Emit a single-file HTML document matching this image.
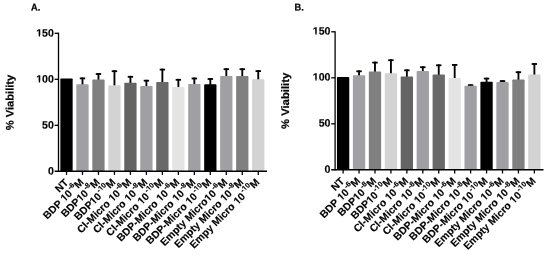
<!DOCTYPE html>
<html lang="en">
<head>
<meta charset="utf-8">
<title>Viability</title>
<style>
html,body{margin:0;padding:0;background:#fff;}
body{width:550px;height:255px;overflow:hidden;}
svg{display:block;}
svg text{font-family:"Liberation Sans", Arial, Helvetica, sans-serif;font-weight:bold;fill:#000;stroke:none;}
svg text.tk{stroke:#000;stroke-width:0.15px;}
svg text.yl{stroke:#000;stroke-width:0.2px;}
svg text.xl{stroke:#000;stroke-width:0.15px;}
svg text.ti{stroke:#000;stroke-width:0.25px;}
</style>
</head>
<body>
<svg width="550" height="255" viewBox="0 0 550 255">
<rect width="550" height="255" fill="#fff"/>
<g id="panelA">
<rect x="60.35" y="78.40" width="12.3" height="92.90" rx="0.8" fill="#000000"/>
<rect x="81.56" y="77.50" width="1.85" height="7.80" fill="#000"/>
<rect x="79.78" y="77.50" width="5.4" height="1.8" fill="#000"/>
<rect x="76.33" y="84.30" width="12.3" height="87.00" rx="0.8" fill="#a0a0a4"/>
<rect x="97.54" y="73.10" width="1.85" height="7.50" fill="#000"/>
<rect x="95.76" y="73.10" width="5.4" height="1.8" fill="#000"/>
<rect x="92.31" y="79.60" width="12.3" height="91.70" rx="0.8" fill="#808080"/>
<rect x="113.52" y="70.30" width="1.85" height="16.00" fill="#000"/>
<rect x="111.74" y="70.30" width="5.4" height="1.8" fill="#000"/>
<rect x="108.29" y="85.30" width="12.3" height="86.00" rx="0.8" fill="#d3d3d3"/>
<rect x="129.50" y="75.90" width="1.85" height="7.80" fill="#000"/>
<rect x="127.72" y="75.90" width="5.4" height="1.8" fill="#000"/>
<rect x="124.27" y="82.70" width="12.3" height="88.60" rx="0.8" fill="#646464"/>
<rect x="145.47" y="79.80" width="1.85" height="7.30" fill="#000"/>
<rect x="143.70" y="79.80" width="5.4" height="1.8" fill="#000"/>
<rect x="140.25" y="86.10" width="12.3" height="85.20" rx="0.8" fill="#a0a0a4"/>
<rect x="161.45" y="68.70" width="1.85" height="14.20" fill="#000"/>
<rect x="159.68" y="68.70" width="5.4" height="1.8" fill="#000"/>
<rect x="156.23" y="81.90" width="12.3" height="89.40" rx="0.8" fill="#696969"/>
<rect x="177.44" y="78.90" width="1.85" height="9.20" fill="#000"/>
<rect x="175.66" y="78.90" width="5.4" height="1.8" fill="#000"/>
<rect x="172.21" y="87.10" width="12.3" height="84.20" rx="0.8" fill="#e4e4e4"/>
<rect x="193.41" y="77.60" width="1.85" height="7.30" fill="#000"/>
<rect x="191.64" y="77.60" width="5.4" height="1.8" fill="#000"/>
<rect x="188.19" y="83.90" width="12.3" height="87.40" rx="0.8" fill="#a0a0a4"/>
<rect x="209.39" y="78.10" width="1.85" height="7.10" fill="#000"/>
<rect x="207.62" y="78.10" width="5.4" height="1.8" fill="#000"/>
<rect x="204.17" y="84.20" width="12.3" height="87.10" rx="0.8" fill="#000000"/>
<rect x="225.38" y="68.30" width="1.85" height="8.80" fill="#000"/>
<rect x="223.60" y="68.30" width="5.4" height="1.8" fill="#000"/>
<rect x="220.15" y="76.10" width="12.3" height="95.20" rx="0.8" fill="#a0a0a4"/>
<rect x="241.35" y="68.30" width="1.85" height="8.70" fill="#000"/>
<rect x="239.58" y="68.30" width="5.4" height="1.8" fill="#000"/>
<rect x="236.13" y="76.00" width="12.3" height="95.30" rx="0.8" fill="#808080"/>
<rect x="257.33" y="70.20" width="1.85" height="10.10" fill="#000"/>
<rect x="255.56" y="70.20" width="5.4" height="1.8" fill="#000"/>
<rect x="252.11" y="79.30" width="12.3" height="92.00" rx="0.8" fill="#d3d3d3"/>
<line x1="58.50" y1="32.65" x2="58.50" y2="171.95" stroke="#000" stroke-width="1.3"/>
<line x1="54.60" y1="171.30" x2="267.00" y2="171.30" stroke="#000" stroke-width="1.5"/>
<line x1="54.60" y1="125.30" x2="58.50" y2="125.30" stroke="#000" stroke-width="1.3"/>
<line x1="54.60" y1="79.30" x2="58.50" y2="79.30" stroke="#000" stroke-width="1.3"/>
<line x1="54.60" y1="33.30" x2="58.50" y2="33.30" stroke="#000" stroke-width="1.3"/>
<text transform="translate(53.90,174.45) rotate(0.05)" font-size="10.6" class="tk" text-anchor="end">0</text>
<text transform="translate(53.90,128.45) rotate(0.05)" font-size="10.6" class="tk" text-anchor="end">50</text>
<text transform="translate(53.90,82.45) rotate(0.05)" font-size="10.6" class="tk" text-anchor="end">100</text><rect class="m" transform="translate(53.90,82.45) rotate(0.05)" x="-17.532" y="-1.682" width="2.319" height="2.182" fill="#fff"/><rect class="m" transform="translate(53.90,82.45) rotate(0.05)" x="-13.759" y="-1.682" width="1.920" height="2.182" fill="#fff"/>
<text transform="translate(53.90,36.45) rotate(0.05)" font-size="10.6" class="tk" text-anchor="end">150</text><rect class="m" transform="translate(53.90,36.45) rotate(0.05)" x="-17.532" y="-1.682" width="2.319" height="2.182" fill="#fff"/><rect class="m" transform="translate(53.90,36.45) rotate(0.05)" x="-13.759" y="-1.682" width="1.920" height="2.182" fill="#fff"/>
<line x1="66.50" y1="171.30" x2="66.50" y2="174.90" stroke="#000" stroke-width="1.3"/>
<text transform="translate(69.00,183.20) rotate(-45)" font-size="10.4" class="xl" text-anchor="end">NT</text>
<line x1="82.48" y1="171.30" x2="82.48" y2="174.90" stroke="#000" stroke-width="1.3"/>
<text transform="translate(84.28,182.80) rotate(-45)" font-size="10.4" class="xl" text-anchor="end">BDP 10<tspan font-size="7.3" dx="0.95" dy="-4.8">-6</tspan><tspan dy="4.8">M</tspan></text><rect class="m" transform="translate(84.28,182.80) rotate(-45)" x="-27.532" y="-1.661" width="2.275" height="2.161" fill="#fff"/><rect class="m" transform="translate(84.28,182.80) rotate(-45)" x="-23.830" y="-1.661" width="1.884" height="2.161" fill="#fff"/>
<line x1="98.46" y1="171.30" x2="98.46" y2="174.90" stroke="#000" stroke-width="1.3"/>
<text transform="translate(100.26,182.80) rotate(-45)" font-size="10.4" class="xl" text-anchor="end">BDP10<tspan font-size="7.3" dx="0.95" dy="-4.8">-8</tspan><tspan dy="4.8">M</tspan></text><rect class="m" transform="translate(100.26,182.80) rotate(-45)" x="-27.516" y="-1.661" width="2.275" height="2.161" fill="#fff"/><rect class="m" transform="translate(100.26,182.80) rotate(-45)" x="-23.814" y="-1.661" width="1.884" height="2.161" fill="#fff"/>
<line x1="114.44" y1="171.30" x2="114.44" y2="174.90" stroke="#000" stroke-width="1.3"/>
<text transform="translate(116.24,182.80) rotate(-45)" font-size="10.4" class="xl" text-anchor="end">BDP10<tspan font-size="7.3" dx="0.95" dy="-4.8">-10</tspan><tspan dy="4.8">M</tspan></text><rect class="m" transform="translate(116.24,182.80) rotate(-45)" x="-31.563" y="-1.661" width="2.275" height="2.161" fill="#fff"/><rect class="m" transform="translate(116.24,182.80) rotate(-45)" x="-27.861" y="-1.661" width="1.884" height="2.161" fill="#fff"/><rect class="m" transform="translate(116.24,182.80) rotate(-45)" x="-16.674" y="-6.145" width="1.597" height="1.845" fill="#fff"/><rect class="m" transform="translate(116.24,182.80) rotate(-45)" x="-14.076" y="-6.145" width="1.322" height="1.845" fill="#fff"/>
<line x1="130.42" y1="171.30" x2="130.42" y2="174.90" stroke="#000" stroke-width="1.3"/>
<text transform="translate(132.22,182.80) rotate(-45)" font-size="10.4" class="xl" text-anchor="end">Cl-Micro 10<tspan font-size="7.3" dx="0.95" dy="-4.8">-6</tspan><tspan dy="4.8">M</tspan></text><rect class="m" transform="translate(132.22,182.80) rotate(-45)" x="-27.532" y="-1.661" width="2.275" height="2.161" fill="#fff"/><rect class="m" transform="translate(132.22,182.80) rotate(-45)" x="-23.830" y="-1.661" width="1.884" height="2.161" fill="#fff"/>
<line x1="146.40" y1="171.30" x2="146.40" y2="174.90" stroke="#000" stroke-width="1.3"/>
<text transform="translate(148.20,182.80) rotate(-45)" font-size="10.4" class="xl" text-anchor="end">Cl-Micro 10<tspan font-size="7.3" dx="0.95" dy="-4.8">-8</tspan><tspan dy="4.8">M</tspan></text><rect class="m" transform="translate(148.20,182.80) rotate(-45)" x="-27.532" y="-1.661" width="2.275" height="2.161" fill="#fff"/><rect class="m" transform="translate(148.20,182.80) rotate(-45)" x="-23.830" y="-1.661" width="1.884" height="2.161" fill="#fff"/>
<line x1="162.38" y1="171.30" x2="162.38" y2="174.90" stroke="#000" stroke-width="1.3"/>
<text transform="translate(164.18,182.80) rotate(-45)" font-size="10.4" class="xl" text-anchor="end">Cl-Micro 10<tspan font-size="7.3" dx="0.95" dy="-4.8">-10</tspan><tspan dy="4.8">M</tspan></text><rect class="m" transform="translate(164.18,182.80) rotate(-45)" x="-31.579" y="-1.661" width="2.275" height="2.161" fill="#fff"/><rect class="m" transform="translate(164.18,182.80) rotate(-45)" x="-27.877" y="-1.661" width="1.884" height="2.161" fill="#fff"/><rect class="m" transform="translate(164.18,182.80) rotate(-45)" x="-16.674" y="-6.145" width="1.597" height="1.845" fill="#fff"/><rect class="m" transform="translate(164.18,182.80) rotate(-45)" x="-14.076" y="-6.145" width="1.322" height="1.845" fill="#fff"/>
<line x1="178.36" y1="171.30" x2="178.36" y2="174.90" stroke="#000" stroke-width="1.3"/>
<text transform="translate(180.16,182.80) rotate(-45)" font-size="10.4" class="xl" text-anchor="end">BDP-Micro 10<tspan font-size="7.3" dx="0.95" dy="-4.8">-6</tspan><tspan dy="4.8">M</tspan></text><rect class="m" transform="translate(180.16,182.80) rotate(-45)" x="-27.532" y="-1.661" width="2.275" height="2.161" fill="#fff"/><rect class="m" transform="translate(180.16,182.80) rotate(-45)" x="-23.830" y="-1.661" width="1.884" height="2.161" fill="#fff"/>
<line x1="194.34" y1="171.30" x2="194.34" y2="174.90" stroke="#000" stroke-width="1.3"/>
<text transform="translate(196.14,182.80) rotate(-45)" font-size="10.4" class="xl" text-anchor="end">BDP-Micro 10<tspan font-size="7.3" dx="0.95" dy="-4.8">-8</tspan><tspan dy="4.8">M</tspan></text><rect class="m" transform="translate(196.14,182.80) rotate(-45)" x="-27.532" y="-1.661" width="2.275" height="2.161" fill="#fff"/><rect class="m" transform="translate(196.14,182.80) rotate(-45)" x="-23.830" y="-1.661" width="1.884" height="2.161" fill="#fff"/>
<line x1="210.32" y1="171.30" x2="210.32" y2="174.90" stroke="#000" stroke-width="1.3"/>
<text transform="translate(212.12,182.80) rotate(-45)" font-size="10.4" class="xl" text-anchor="end">BDP-Micro 10<tspan font-size="7.3" dx="0.95" dy="-4.8">-10</tspan><tspan dy="4.8">M</tspan></text><rect class="m" transform="translate(212.12,182.80) rotate(-45)" x="-31.579" y="-1.661" width="2.275" height="2.161" fill="#fff"/><rect class="m" transform="translate(212.12,182.80) rotate(-45)" x="-27.877" y="-1.661" width="1.884" height="2.161" fill="#fff"/><rect class="m" transform="translate(212.12,182.80) rotate(-45)" x="-16.674" y="-6.145" width="1.597" height="1.845" fill="#fff"/><rect class="m" transform="translate(212.12,182.80) rotate(-45)" x="-14.076" y="-6.145" width="1.322" height="1.845" fill="#fff"/>
<line x1="226.30" y1="171.30" x2="226.30" y2="174.90" stroke="#000" stroke-width="1.3"/>
<text transform="translate(228.10,182.80) rotate(-45)" font-size="10.4" class="xl" text-anchor="end">Empty Micro10<tspan font-size="7.3" dx="0.95" dy="-4.8">-6</tspan><tspan dy="4.8">M</tspan></text><rect class="m" transform="translate(228.10,182.80) rotate(-45)" x="-27.532" y="-1.661" width="2.275" height="2.161" fill="#fff"/><rect class="m" transform="translate(228.10,182.80) rotate(-45)" x="-23.830" y="-1.661" width="1.884" height="2.161" fill="#fff"/>
<line x1="242.28" y1="171.30" x2="242.28" y2="174.90" stroke="#000" stroke-width="1.3"/>
<text transform="translate(244.08,182.80) rotate(-45)" font-size="10.4" class="xl" text-anchor="end">Empty Micro 10<tspan font-size="7.3" dx="0.95" dy="-4.8">-8</tspan><tspan dy="4.8">M</tspan></text><rect class="m" transform="translate(244.08,182.80) rotate(-45)" x="-27.532" y="-1.661" width="2.275" height="2.161" fill="#fff"/><rect class="m" transform="translate(244.08,182.80) rotate(-45)" x="-23.830" y="-1.661" width="1.884" height="2.161" fill="#fff"/>
<line x1="258.26" y1="171.30" x2="258.26" y2="174.90" stroke="#000" stroke-width="1.3"/>
<text transform="translate(260.06,182.80) rotate(-45)" font-size="10.4" class="xl" text-anchor="end">Empy Micro 10<tspan font-size="7.3" dx="0.95" dy="-4.8">-10</tspan><tspan dy="4.8">M</tspan></text><rect class="m" transform="translate(260.06,182.80) rotate(-45)" x="-31.579" y="-1.661" width="2.275" height="2.161" fill="#fff"/><rect class="m" transform="translate(260.06,182.80) rotate(-45)" x="-27.877" y="-1.661" width="1.884" height="2.161" fill="#fff"/><rect class="m" transform="translate(260.06,182.80) rotate(-45)" x="-16.674" y="-6.145" width="1.597" height="1.845" fill="#fff"/><rect class="m" transform="translate(260.06,182.80) rotate(-45)" x="-14.076" y="-6.145" width="1.322" height="1.845" fill="#fff"/>
<text transform="translate(13.60,102.50) rotate(-89.95) scale(1.023,1)" class="yl" font-size="10.9" text-anchor="middle">% Viability</text>
<text transform="translate(31.00,10.55) rotate(0.05) scale(0.93,1)" font-size="9.9" class="ti">A.</text>
</g>
<g id="panelB">
<rect x="336.95" y="77.00" width="12.3" height="92.85" rx="0.8" fill="#000000"/>
<rect x="358.12" y="70.40" width="1.85" height="5.80" fill="#000"/>
<rect x="356.34" y="70.40" width="5.4" height="1.8" fill="#000"/>
<rect x="352.89" y="75.20" width="12.3" height="94.65" rx="0.8" fill="#a0a0a4"/>
<rect x="374.06" y="61.70" width="1.85" height="10.90" fill="#000"/>
<rect x="372.28" y="61.70" width="5.4" height="1.8" fill="#000"/>
<rect x="368.83" y="71.60" width="12.3" height="98.25" rx="0.8" fill="#808080"/>
<rect x="390.00" y="59.30" width="1.85" height="15.00" fill="#000"/>
<rect x="388.22" y="59.30" width="5.4" height="1.8" fill="#000"/>
<rect x="384.77" y="73.30" width="12.3" height="96.55" rx="0.8" fill="#d3d3d3"/>
<rect x="405.94" y="69.40" width="1.85" height="8.10" fill="#000"/>
<rect x="404.16" y="69.40" width="5.4" height="1.8" fill="#000"/>
<rect x="400.71" y="76.50" width="12.3" height="93.35" rx="0.8" fill="#646464"/>
<rect x="421.88" y="66.30" width="1.85" height="5.70" fill="#000"/>
<rect x="420.10" y="66.30" width="5.4" height="1.8" fill="#000"/>
<rect x="416.65" y="71.00" width="12.3" height="98.85" rx="0.8" fill="#a0a0a4"/>
<rect x="437.81" y="64.40" width="1.85" height="11.20" fill="#000"/>
<rect x="436.04" y="64.40" width="5.4" height="1.8" fill="#000"/>
<rect x="432.59" y="74.60" width="12.3" height="95.25" rx="0.8" fill="#696969"/>
<rect x="453.75" y="64.00" width="1.85" height="15.00" fill="#000"/>
<rect x="451.98" y="64.00" width="5.4" height="1.8" fill="#000"/>
<rect x="448.53" y="78.00" width="12.3" height="91.85" rx="0.8" fill="#e4e4e4"/>
<rect x="469.69" y="84.30" width="1.85" height="2.50" fill="#000"/>
<rect x="467.92" y="84.30" width="5.4" height="1.8" fill="#000"/>
<rect x="464.47" y="85.80" width="12.3" height="84.05" rx="0.8" fill="#a0a0a4"/>
<rect x="485.64" y="77.70" width="1.85" height="5.00" fill="#000"/>
<rect x="483.86" y="77.70" width="5.4" height="1.8" fill="#000"/>
<rect x="480.41" y="81.70" width="12.3" height="88.15" rx="0.8" fill="#000000"/>
<rect x="501.57" y="80.20" width="1.85" height="2.90" fill="#000"/>
<rect x="499.80" y="80.20" width="5.4" height="1.8" fill="#000"/>
<rect x="496.35" y="82.10" width="12.3" height="87.75" rx="0.8" fill="#a0a0a4"/>
<rect x="517.52" y="71.30" width="1.85" height="9.10" fill="#000"/>
<rect x="515.74" y="71.30" width="5.4" height="1.8" fill="#000"/>
<rect x="512.29" y="79.40" width="12.3" height="90.45" rx="0.8" fill="#808080"/>
<rect x="533.46" y="63.10" width="1.85" height="12.30" fill="#000"/>
<rect x="531.68" y="63.10" width="5.4" height="1.8" fill="#000"/>
<rect x="528.23" y="74.40" width="12.3" height="95.45" rx="0.8" fill="#d3d3d3"/>
<line x1="335.10" y1="31.15" x2="335.10" y2="170.50" stroke="#000" stroke-width="1.3"/>
<line x1="331.20" y1="169.85" x2="543.50" y2="169.85" stroke="#000" stroke-width="1.5"/>
<line x1="331.20" y1="123.83" x2="335.10" y2="123.83" stroke="#000" stroke-width="1.3"/>
<line x1="331.20" y1="77.82" x2="335.10" y2="77.82" stroke="#000" stroke-width="1.3"/>
<line x1="331.20" y1="31.80" x2="335.10" y2="31.80" stroke="#000" stroke-width="1.3"/>
<text transform="translate(330.50,172.65) rotate(0.05)" font-size="10.6" class="tk" text-anchor="end">0</text>
<text transform="translate(330.50,126.63) rotate(0.05)" font-size="10.6" class="tk" text-anchor="end">50</text>
<text transform="translate(330.50,80.62) rotate(0.05)" font-size="10.6" class="tk" text-anchor="end">100</text><rect class="m" transform="translate(330.50,80.62) rotate(0.05)" x="-17.532" y="-1.682" width="2.319" height="2.182" fill="#fff"/><rect class="m" transform="translate(330.50,80.62) rotate(0.05)" x="-13.759" y="-1.682" width="1.920" height="2.182" fill="#fff"/>
<text transform="translate(330.50,34.60) rotate(0.05)" font-size="10.6" class="tk" text-anchor="end">150</text><rect class="m" transform="translate(330.50,34.60) rotate(0.05)" x="-17.532" y="-1.682" width="2.319" height="2.182" fill="#fff"/><rect class="m" transform="translate(330.50,34.60) rotate(0.05)" x="-13.759" y="-1.682" width="1.920" height="2.182" fill="#fff"/>
<line x1="343.10" y1="169.85" x2="343.10" y2="173.45" stroke="#000" stroke-width="1.3"/>
<text transform="translate(345.00,181.75) rotate(-45)" font-size="10.4" class="xl" text-anchor="end">NT</text>
<line x1="359.04" y1="169.85" x2="359.04" y2="173.45" stroke="#000" stroke-width="1.3"/>
<text transform="translate(360.94,181.75) rotate(-45)" font-size="10.4" class="xl" text-anchor="end">BDP 10<tspan font-size="7.3" dx="0.95" dy="-4.8">-6</tspan><tspan dy="4.8">M</tspan></text><rect class="m" transform="translate(360.94,181.75) rotate(-45)" x="-27.532" y="-1.661" width="2.275" height="2.161" fill="#fff"/><rect class="m" transform="translate(360.94,181.75) rotate(-45)" x="-23.830" y="-1.661" width="1.884" height="2.161" fill="#fff"/>
<line x1="374.98" y1="169.85" x2="374.98" y2="173.45" stroke="#000" stroke-width="1.3"/>
<text transform="translate(376.88,181.75) rotate(-45)" font-size="10.4" class="xl" text-anchor="end">BDP10<tspan font-size="7.3" dx="0.95" dy="-4.8">-8</tspan><tspan dy="4.8">M</tspan></text><rect class="m" transform="translate(376.88,181.75) rotate(-45)" x="-27.516" y="-1.661" width="2.275" height="2.161" fill="#fff"/><rect class="m" transform="translate(376.88,181.75) rotate(-45)" x="-23.814" y="-1.661" width="1.884" height="2.161" fill="#fff"/>
<line x1="390.92" y1="169.85" x2="390.92" y2="173.45" stroke="#000" stroke-width="1.3"/>
<text transform="translate(392.82,181.75) rotate(-45)" font-size="10.4" class="xl" text-anchor="end">BDP10<tspan font-size="7.3" dx="0.95" dy="-4.8">-10</tspan><tspan dy="4.8">M</tspan></text><rect class="m" transform="translate(392.82,181.75) rotate(-45)" x="-31.563" y="-1.661" width="2.275" height="2.161" fill="#fff"/><rect class="m" transform="translate(392.82,181.75) rotate(-45)" x="-27.861" y="-1.661" width="1.884" height="2.161" fill="#fff"/><rect class="m" transform="translate(392.82,181.75) rotate(-45)" x="-16.674" y="-6.145" width="1.597" height="1.845" fill="#fff"/><rect class="m" transform="translate(392.82,181.75) rotate(-45)" x="-14.076" y="-6.145" width="1.322" height="1.845" fill="#fff"/>
<line x1="406.86" y1="169.85" x2="406.86" y2="173.45" stroke="#000" stroke-width="1.3"/>
<text transform="translate(408.76,181.75) rotate(-45)" font-size="10.4" class="xl" text-anchor="end">Cl-Micro 10<tspan font-size="7.3" dx="0.95" dy="-4.8">-6</tspan><tspan dy="4.8">M</tspan></text><rect class="m" transform="translate(408.76,181.75) rotate(-45)" x="-27.532" y="-1.661" width="2.275" height="2.161" fill="#fff"/><rect class="m" transform="translate(408.76,181.75) rotate(-45)" x="-23.830" y="-1.661" width="1.884" height="2.161" fill="#fff"/>
<line x1="422.80" y1="169.85" x2="422.80" y2="173.45" stroke="#000" stroke-width="1.3"/>
<text transform="translate(424.70,181.75) rotate(-45)" font-size="10.4" class="xl" text-anchor="end">Cl-Micro 10<tspan font-size="7.3" dx="0.95" dy="-4.8">-8</tspan><tspan dy="4.8">M</tspan></text><rect class="m" transform="translate(424.70,181.75) rotate(-45)" x="-27.532" y="-1.661" width="2.275" height="2.161" fill="#fff"/><rect class="m" transform="translate(424.70,181.75) rotate(-45)" x="-23.830" y="-1.661" width="1.884" height="2.161" fill="#fff"/>
<line x1="438.74" y1="169.85" x2="438.74" y2="173.45" stroke="#000" stroke-width="1.3"/>
<text transform="translate(440.64,181.75) rotate(-45)" font-size="10.4" class="xl" text-anchor="end">Cl-Micro 10<tspan font-size="7.3" dx="0.95" dy="-4.8">-10</tspan><tspan dy="4.8">M</tspan></text><rect class="m" transform="translate(440.64,181.75) rotate(-45)" x="-31.579" y="-1.661" width="2.275" height="2.161" fill="#fff"/><rect class="m" transform="translate(440.64,181.75) rotate(-45)" x="-27.877" y="-1.661" width="1.884" height="2.161" fill="#fff"/><rect class="m" transform="translate(440.64,181.75) rotate(-45)" x="-16.674" y="-6.145" width="1.597" height="1.845" fill="#fff"/><rect class="m" transform="translate(440.64,181.75) rotate(-45)" x="-14.076" y="-6.145" width="1.322" height="1.845" fill="#fff"/>
<line x1="454.68" y1="169.85" x2="454.68" y2="173.45" stroke="#000" stroke-width="1.3"/>
<text transform="translate(456.58,181.75) rotate(-45)" font-size="10.4" class="xl" text-anchor="end">BDP-Micro 10<tspan font-size="7.3" dx="0.95" dy="-4.8">-6</tspan><tspan dy="4.8">M</tspan></text><rect class="m" transform="translate(456.58,181.75) rotate(-45)" x="-27.532" y="-1.661" width="2.275" height="2.161" fill="#fff"/><rect class="m" transform="translate(456.58,181.75) rotate(-45)" x="-23.830" y="-1.661" width="1.884" height="2.161" fill="#fff"/>
<line x1="470.62" y1="169.85" x2="470.62" y2="173.45" stroke="#000" stroke-width="1.3"/>
<text transform="translate(472.52,181.75) rotate(-45)" font-size="10.4" class="xl" text-anchor="end">BDP-Micro 10<tspan font-size="7.3" dx="0.95" dy="-4.8">-8</tspan><tspan dy="4.8">M</tspan></text><rect class="m" transform="translate(472.52,181.75) rotate(-45)" x="-27.532" y="-1.661" width="2.275" height="2.161" fill="#fff"/><rect class="m" transform="translate(472.52,181.75) rotate(-45)" x="-23.830" y="-1.661" width="1.884" height="2.161" fill="#fff"/>
<line x1="486.56" y1="169.85" x2="486.56" y2="173.45" stroke="#000" stroke-width="1.3"/>
<text transform="translate(488.46,181.75) rotate(-45)" font-size="10.4" class="xl" text-anchor="end">BDP-Micro 10<tspan font-size="7.3" dx="0.95" dy="-4.8">-10</tspan><tspan dy="4.8">M</tspan></text><rect class="m" transform="translate(488.46,181.75) rotate(-45)" x="-31.579" y="-1.661" width="2.275" height="2.161" fill="#fff"/><rect class="m" transform="translate(488.46,181.75) rotate(-45)" x="-27.877" y="-1.661" width="1.884" height="2.161" fill="#fff"/><rect class="m" transform="translate(488.46,181.75) rotate(-45)" x="-16.674" y="-6.145" width="1.597" height="1.845" fill="#fff"/><rect class="m" transform="translate(488.46,181.75) rotate(-45)" x="-14.076" y="-6.145" width="1.322" height="1.845" fill="#fff"/>
<line x1="502.50" y1="169.85" x2="502.50" y2="173.45" stroke="#000" stroke-width="1.3"/>
<text transform="translate(504.40,181.75) rotate(-45)" font-size="10.4" class="xl" text-anchor="end">Empty Micro 10<tspan font-size="7.3" dx="0.95" dy="-4.8">-6</tspan><tspan dy="4.8">M</tspan></text><rect class="m" transform="translate(504.40,181.75) rotate(-45)" x="-27.532" y="-1.661" width="2.275" height="2.161" fill="#fff"/><rect class="m" transform="translate(504.40,181.75) rotate(-45)" x="-23.830" y="-1.661" width="1.884" height="2.161" fill="#fff"/>
<line x1="518.44" y1="169.85" x2="518.44" y2="173.45" stroke="#000" stroke-width="1.3"/>
<text transform="translate(520.34,181.75) rotate(-45)" font-size="10.4" class="xl" text-anchor="end">Empty Micro 10<tspan font-size="7.3" dx="0.95" dy="-4.8">-8</tspan><tspan dy="4.8">M</tspan></text><rect class="m" transform="translate(520.34,181.75) rotate(-45)" x="-27.532" y="-1.661" width="2.275" height="2.161" fill="#fff"/><rect class="m" transform="translate(520.34,181.75) rotate(-45)" x="-23.830" y="-1.661" width="1.884" height="2.161" fill="#fff"/>
<line x1="534.38" y1="169.85" x2="534.38" y2="173.45" stroke="#000" stroke-width="1.3"/>
<text transform="translate(536.28,181.75) rotate(-45)" font-size="10.4" class="xl" text-anchor="end">Empty Micro 10<tspan font-size="7.3" dx="0.95" dy="-4.8">-10</tspan><tspan dy="4.8">M</tspan></text><rect class="m" transform="translate(536.28,181.75) rotate(-45)" x="-31.579" y="-1.661" width="2.275" height="2.161" fill="#fff"/><rect class="m" transform="translate(536.28,181.75) rotate(-45)" x="-27.877" y="-1.661" width="1.884" height="2.161" fill="#fff"/><rect class="m" transform="translate(536.28,181.75) rotate(-45)" x="-16.674" y="-6.145" width="1.597" height="1.845" fill="#fff"/><rect class="m" transform="translate(536.28,181.75) rotate(-45)" x="-14.076" y="-6.145" width="1.322" height="1.845" fill="#fff"/>
<text transform="translate(289.10,100.90) rotate(-89.95) scale(1.037,1)" class="yl" font-size="10.9" text-anchor="middle">% Viability</text>
<text transform="translate(294.50,10.55) rotate(0.05) scale(0.93,1)" font-size="9.9" class="ti">B.</text>
</g>
</svg>
</body>
</html>
